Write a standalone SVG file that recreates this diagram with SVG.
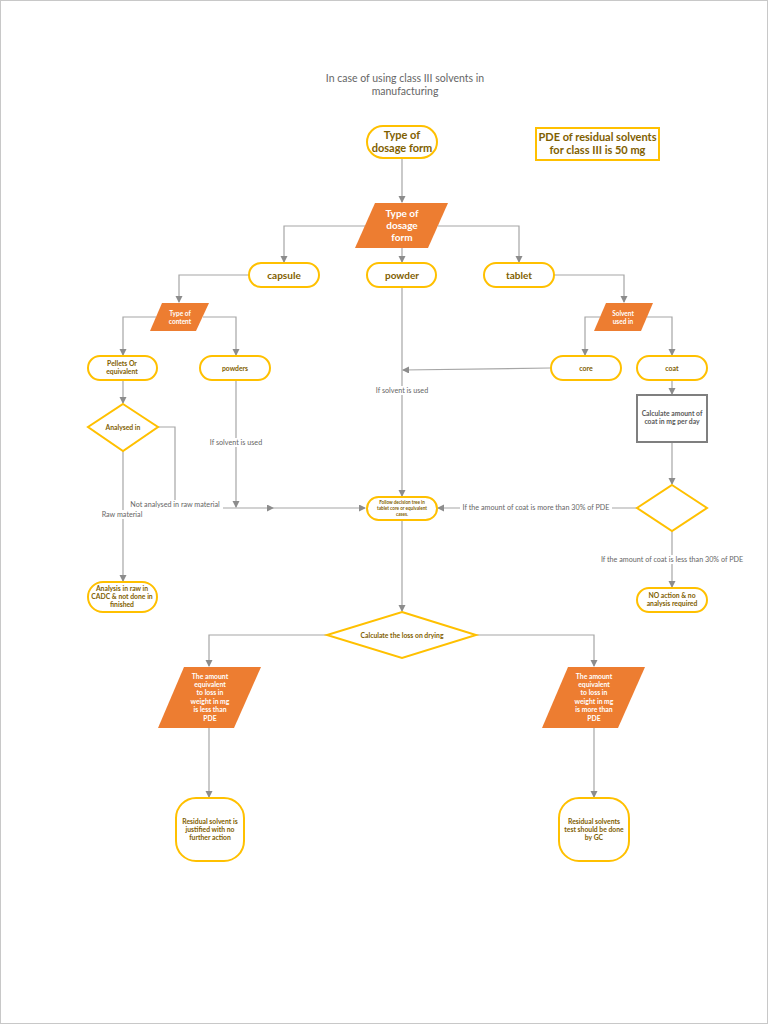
<svg xmlns="http://www.w3.org/2000/svg" width="768" height="1024" viewBox="0 0 768 1024">
<defs>
<marker id="arr" markerWidth="8" markerHeight="8" refX="6" refY="3.5" orient="auto" markerUnits="userSpaceOnUse">
<path d="M0,0 L7,3.5 L0,7 z" fill="#8c8c8c"/>
</marker>
<style>
.term{fill:#fff;stroke:#FFC000;stroke-width:2}
.para{fill:#ED7D31;stroke:none}
.box{fill:#fff;stroke:#7f7f7f;stroke-width:2}
.t{font-family:Lato,"Open Sans",sans-serif;font-weight:bold;fill:#7F6000;text-anchor:middle}
.w{font-family:Lato,"Open Sans",sans-serif;font-weight:bold;fill:#fff;text-anchor:middle}
.g{font-family:Lato,"Open Sans",sans-serif;fill:#666;text-anchor:middle}
.lbl{font-family:Lato,"Open Sans",sans-serif;fill:#666;text-anchor:middle;font-size:7.2px}
.c{fill:none;stroke:#a6a6a6;stroke-width:1.2}
</style>
</defs>
<rect x="0.5" y="0.5" width="767" height="1023" fill="#fff" stroke="#c8c8c8"/>
<text class="g" x="405" y="82" font-size="10.5">In case of using class III solvents in</text>
<text class="g" x="405" y="95" font-size="10.5">manufacturing</text>

<g id="connectors">
<path class="c" d="M402,158 V202" marker-end="url(#arr)"/>
<path class="c" d="M365,226 H284 V262" marker-end="url(#arr)"/>
<path class="c" d="M438,226 H519 V262" marker-end="url(#arr)"/>
<path class="c" d="M402,248 V262" marker-end="url(#arr)"/>
<path class="c" d="M249,275 H179 V302" marker-end="url(#arr)"/>
<path class="c" d="M554,275 H624 V302" marker-end="url(#arr)"/>
<path class="c" d="M156,317 H123 V355" marker-end="url(#arr)"/>
<path class="c" d="M203,317 H236 V355" marker-end="url(#arr)"/>
<path class="c" d="M600,317 H585 V355" marker-end="url(#arr)"/>
<path class="c" d="M647,317 H672 V355" marker-end="url(#arr)"/>
<path class="c" d="M123,380 V403" marker-end="url(#arr)"/>
<path class="c" d="M158,427 H175 V508 H273" marker-end="url(#arr)"/>
<path class="c" d="M273,508 H365" marker-end="url(#arr)"/>
<path class="c" d="M236,380 V507" marker-end="url(#arr)"/>
<path class="c" d="M123,451 V581" marker-end="url(#arr)"/>
<path class="c" d="M402,287 V496" marker-end="url(#arr)"/>
<path class="c" d="M550,368 L403,370" marker-end="url(#arr)"/>
<path class="c" d="M672,380 V394" marker-end="url(#arr)"/>
<path class="c" d="M672,442 V484" marker-end="url(#arr)"/>
<path class="c" d="M637,508 H438" marker-end="url(#arr)"/>
<path class="c" d="M672,531 V587" marker-end="url(#arr)"/>
<path class="c" d="M402,520 V611" marker-end="url(#arr)"/>
<path class="c" d="M327,635 H209 V666" marker-end="url(#arr)"/>
<path class="c" d="M476,635 H594 V666" marker-end="url(#arr)"/>
<path class="c" d="M209,728 V797" marker-end="url(#arr)"/>
<path class="c" d="M594,728 V797" marker-end="url(#arr)"/>
<g id="labels">
<rect x="207" y="438" width="58" height="9" fill="#fff"/>
<text class="lbl" x="236" y="445">If solvent is used</text>
<rect x="373" y="386" width="58" height="9" fill="#fff"/>
<text class="lbl" x="402" y="393">If solvent is used</text>
<rect x="127" y="500" width="96" height="9" fill="#fff"/>
<text class="lbl" x="175" y="507">Not analysed in raw material</text>
<rect x="100" y="510" width="45" height="9" fill="#fff"/>
<text class="lbl" x="122" y="517">Raw material</text>
<rect x="460" y="503" width="152" height="9" fill="#fff"/>
<text class="lbl" x="536" y="510">If  the amount of coat is more than 30% of PDE</text>
<rect x="598" y="555" width="148" height="9" fill="#fff"/>
<text class="lbl" x="672" y="562">If the amount of coat is less than 30% of PDE</text>
</g>
</g>

<g id="n-start">
<rect class="term" x="367" y="126" width="70" height="32" rx="16"/>
<text class="t" x="402" y="139" font-size="11">Type of</text>
<text class="t" x="402" y="152" font-size="11">dosage form</text>
</g>
<g id="n-pde">
<rect x="536" y="128" width="123" height="32" fill="#fff" stroke="#FFC000" stroke-width="2"/>
<text class="t" x="597.5" y="141" font-size="11">PDE of residual solvents</text>
<text class="t" x="597.5" y="154" font-size="11">for class III is 50 mg</text>
</g>
<g id="n-dosage">
<polygon class="para" points="375,203 448,203 428,248 355,248"/>
<text class="w" x="402" y="217" font-size="10">Type of</text>
<text class="w" x="402" y="229" font-size="10">dosage</text>
<text class="w" x="402" y="241" font-size="10">form</text>
</g>
<g id="n-capsule">
<rect class="term" x="249" y="263" width="70" height="24" rx="12"/>
<text class="t" x="284" y="279" font-size="10">capsule</text>
</g>
<g id="n-powder">
<rect class="term" x="367" y="263" width="69" height="24" rx="12"/>
<text class="t" x="402" y="279" font-size="10">powder</text>
</g>
<g id="n-tablet">
<rect class="term" x="484" y="263" width="70" height="24" rx="12"/>
<text class="t" x="519" y="279" font-size="10">tablet</text>
</g>
<g id="n-content">
<polygon class="para" points="162,303 209,303 196,331 150,331"/>
<text class="w" x="180" y="316" font-size="6.5">Type of</text>
<text class="w" x="180" y="324" font-size="6.5">content</text>
</g>
<g id="n-solvent">
<polygon class="para" points="606,303 653,303 641,331 594,331"/>
<text class="w" x="623" y="316" font-size="6.5">Solvent</text>
<text class="w" x="623" y="324" font-size="6.5">used in</text>
</g>
<g id="n-pellets">
<rect class="term" x="88" y="356" width="69" height="24" rx="12"/>
<text class="t" x="122" y="366" font-size="6.8">Pellets  Or</text>
<text class="t" x="122" y="374" font-size="6.8">equivalent</text>
</g>
<g id="n-powders">
<rect class="term" x="200" y="356" width="70" height="24" rx="12"/>
<text class="t" x="235" y="371" font-size="6.8">powders</text>
</g>
<g id="n-core">
<rect class="term" x="551" y="356" width="70" height="24" rx="12"/>
<text class="t" x="586" y="371" font-size="7">core</text>
</g>
<g id="n-coat">
<rect class="term" x="637" y="356" width="70" height="24" rx="12"/>
<text class="t" x="672" y="371" font-size="7">coat</text>
</g>
<g id="n-analysed">
<polygon class="term" points="123,404 158,427 123,451 88,427"/>
<text class="t" x="123" y="430" font-size="6.8">Analysed in</text>
</g>
<g id="n-calc-coat">
<rect class="box" x="637" y="395" width="70" height="47"/>
<text x="672" y="416" font-size="6.8" font-family="Lato,'Open Sans',sans-serif" font-weight="bold" fill="#595959" text-anchor="middle">Calculate amount of</text>
<text x="672" y="424" font-size="6.8" font-family="Lato,'Open Sans',sans-serif" font-weight="bold" fill="#595959" text-anchor="middle">coat in mg per day</text>
</g>
<g id="n-coat-dec">
<polygon class="term" points="672,485 707,508 672,531 637,508"/>
</g>
<g id="n-follow">
<rect class="term" x="367" y="497" width="70" height="23" rx="11.5"/>
<text class="t" x="402" y="504" font-size="4.6">Follow decision tree in</text>
<text class="t" x="402" y="510" font-size="4.6">tablet core or equivalent</text>
<text class="t" x="402" y="516" font-size="4.6">cases.</text>
</g>
<g id="n-analysis">
<rect class="term" x="88" y="582" width="69" height="30" rx="15"/>
<text class="t" x="122" y="591" font-size="6.8">Analysis in raw in</text>
<text class="t" x="122" y="599" font-size="6.8">CADC &amp; not done in</text>
<text class="t" x="122" y="607" font-size="6.8">finished</text>
</g>
<g id="n-noaction">
<rect class="term" x="637" y="588" width="70" height="24" rx="12"/>
<text class="t" x="672" y="598" font-size="6.8">NO action &amp; no</text>
<text class="t" x="672" y="606" font-size="6.8">analysis required</text>
</g>
<g id="n-lod">
<polygon class="term" points="402,612 476,635 402,658 327,635"/>
<text class="t" x="402" y="638" font-size="6.8">Calculate the loss on drying</text>
</g>
<g id="n-less">
<polygon class="para" points="184,667 261,667 234,728 158,728"/>
<text class="w" x="210" y="679" font-size="6.8">The amount</text>
<text class="w" x="210" y="687" font-size="6.8">equivalent</text>
<text class="w" x="210" y="695" font-size="6.8">to loss in</text>
<text class="w" x="210" y="704" font-size="6.8">weight in mg</text>
<text class="w" x="210" y="712" font-size="6.8">is less than</text>
<text class="w" x="210" y="721" font-size="6.8">PDE</text>
</g>
<g id="n-more">
<polygon class="para" points="568,667 645,667 618,728 542,728"/>
<text class="w" x="594" y="679" font-size="6.8">The amount</text>
<text class="w" x="594" y="687" font-size="6.8">equivalent</text>
<text class="w" x="594" y="695" font-size="6.8">to loss in</text>
<text class="w" x="594" y="704" font-size="6.8">weight in mg</text>
<text class="w" x="594" y="712" font-size="6.8">is more than</text>
<text class="w" x="594" y="721" font-size="6.8">PDE</text>
</g>
<g id="n-justified">
<rect class="term" x="176" y="798" width="68" height="63" rx="20"/>
<text class="t" x="210" y="824" font-size="6.8">Residual solvent is</text>
<text class="t" x="210" y="832" font-size="6.8">justified with no</text>
<text class="t" x="210" y="840" font-size="6.8">further action</text>
</g>
<g id="n-gc">
<rect class="term" x="559" y="798" width="70" height="63" rx="20"/>
<text class="t" x="594" y="824" font-size="6.8">Residual solvents</text>
<text class="t" x="594" y="832" font-size="6.8">test should be done</text>
<text class="t" x="594" y="840" font-size="6.8">by GC</text>
</g>
</svg>
